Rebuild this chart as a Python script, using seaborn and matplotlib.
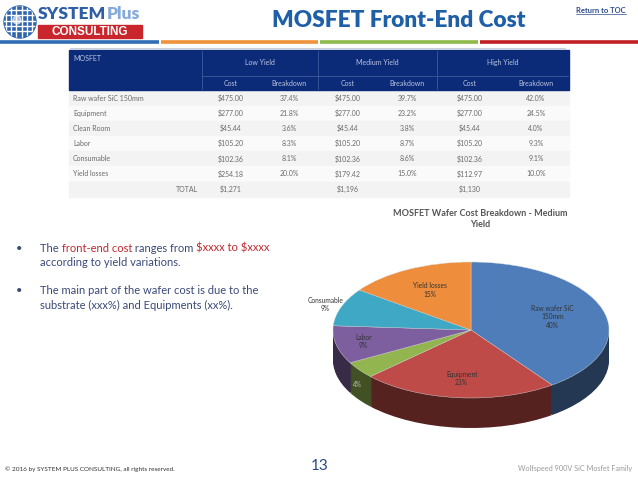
import numpy as np
import matplotlib
matplotlib.use("Agg")
import matplotlib.pyplot as plt
import matplotlib.patches as mpatches
import seaborn as sns

# ---------------- data ----------------
row_names = ["Raw wafer SiC 150mm", "Equipment", "Clean Room", "Labor", "Consumable", "Yield losses"]
low_cost = ["$475.00", "$277.00", "$45.44", "$105.20", "$102.36", "$254.18"]
low_pct = ["37.4%", "21.8%", "3.6%", "8.3%", "8.1%", "20.0%"]
med_cost = ["$475.00", "$277.00", "$45.44", "$105.20", "$102.36", "$179.42"]
med_pct = ["39.7%", "23.2%", "3.8%", "8.7%", "8.6%", "15.0%"]
high_cost = ["$475.00", "$277.00", "$45.44", "$105.20", "$102.36", "$112.97"]
high_pct = ["42.0%", "24.5%", "4.0%", "9.3%", "9.1%", "10.0%"]
totals = ["$1,271", "$1,196", "$1,130"]
group_names = ["Low Yield", "Medium Yield", "High Yield"]
sub_names = ["Cost", "Breakdown"]

pie_labels = ["Raw wafer SiC\n150mm\n40%", "Equipment\n23%", "4%", "Labor\n9%",
              "Consumable\n9%", "Yield losses\n15%"]
pie_values = [40, 23, 4, 9, 9, 15]
pie_colors = ["#4F7DBA", "#BE4B48", "#92B54F", "#7D5FA0", "#3FA8C4", "#EE8D3C"]

# ---------------- figure ----------------
sns.set_theme(style="white")
plt.rcParams['font.family'] = ['Lato', 'DejaVu Sans']

W, H = 638, 478
fig = plt.figure(figsize=(W / 100, H / 100), dpi=100)
fig.patch.set_facecolor("white")
renderer = fig.canvas.get_renderer()

bg = fig.add_axes([0, 0, 1, 1])
bg.set_xlim(0, W)
bg.set_ylim(H, 0)
bg.axis("off")


def T(x, y, s, **kw):
    return bg.text(x, y, s, parse_math=False, **kw)


def runs(x, y, parts, **kw):
    for s, c in parts:
        t = T(x, y, s, color=c, va="center", ha="left", **kw)
        bb = t.get_window_extent(renderer=renderer)
        x += bb.width
    return x


# ---- logo ----
globe = mpatches.Circle((20, 22), 16, color="#2f63ad", zorder=2)
bg.add_patch(globe)
for k in np.arange(6, 36, 5.2):
    ln1 = bg.plot([k, k], [4, 40], color="white", lw=1.0, zorder=3)[0]
    ln2 = bg.plot([2, 38], [k - 1, k - 1], color="white", lw=1.0, zorder=3)[0]
    ln1.set_clip_path(globe)
    ln2.set_clip_path(globe)
bg.add_patch(mpatches.Circle((17, 20), 4, color="white", alpha=0.6, zorder=4))
runs(38, 14, [("SYSTEM", "#2f5ea8"), ("Plus", "#86abdb")], fontsize=12.5, fontweight="heavy")
bg.add_patch(mpatches.Rectangle((38, 25), 104, 13, color="#c8262c", zorder=2))
T(90, 31.5, "CONSULTING", fontsize=8.5, fontweight="bold", color="white",
  family=["Liberation Sans"], va="center", ha="center", zorder=3)

# ---- title ----
T(399, 20, "MOSFET Front-End Cost", fontsize=16.3, fontweight="heavy", color="#1f5fa8",
  ha="center", va="center")
T(601, 10, "Return to TOC", fontsize=5.5, fontweight="bold", color="#2a4a8a",
  ha="center", va="center")
bg.plot([576, 626], [14, 14], color="#2a4a8a", lw=0.5)

# ---- stripes ----
for x0, x1, c in [(0, 159, "#2f6db5"), (161, 318, "#f0923a"), (320, 478, "#8db94a"), (480, 638, "#c21f24")]:
    bg.plot([x0, x1], [42, 42], color=c, lw=2.6, solid_capstyle="butt")
bg.plot([70, 565], [48, 48], color="#c9cfd8", lw=0.8)

# ---- table ----
navy = "#0b2a78"
tx0, tx1 = 69, 569
col_edges = [69, 202, 260, 318, 378, 437, 503, 569]
bg.add_patch(mpatches.Rectangle((tx0, 50), tx1 - tx0, 40, color=navy, zorder=2))
for xe in [202, 318, 437]:
    bg.plot([xe, xe], [51, 89], color="#3e5a9c", lw=0.6, zorder=3)
bg.plot([202, 568], [76, 76], color="#3e5a9c", lw=0.6, zorder=3)
hdr_col = "#b9c4e0"
T(73, 58, "MOSFET", fontsize=5, color=hdr_col, va="center", ha="left", zorder=4)
for g, name in enumerate(group_names):
    xa, xb = col_edges[1 + 2 * g], col_edges[3 + 2 * g]
    T((xa + xb) / 2, 62, name, fontsize=5, color=hdr_col, va="center", ha="center", zorder=4)
    for s, sn in enumerate(sub_names):
        xs0, xs1 = col_edges[1 + 2 * g + s], col_edges[2 + 2 * g + s]
        T((xs0 + xs1) / 2, 83, sn, fontsize=5, color=hdr_col, va="center", ha="center", zorder=4)

row_h = 15.2
cols_data = [low_cost, low_pct, med_cost, med_pct, high_cost, high_pct]
txt_col = "#6a6a6a"
for i, rn in enumerate(row_names):
    yc = 98 + i * row_h
    bg.add_patch(mpatches.Rectangle((tx0, yc - row_h / 2), tx1 - tx0, row_h,
                                    color="#f3f3f3" if i % 2 == 0 else "#fafafa", zorder=1))
    T(73, yc, rn, fontsize=5, color=txt_col, va="center", ha="left")
    for j, col in enumerate(cols_data):
        xc = (col_edges[1 + j] + col_edges[2 + j]) / 2
        T(xc, yc, col[i], fontsize=5, color=txt_col, va="center", ha="center")
yt = 98 + len(row_names) * row_h
bg.add_patch(mpatches.Rectangle((tx0, yt - row_h / 2), tx1 - tx0, row_h, color="#f3f3f3", zorder=1))
T(198, yt, "TOTAL", fontsize=5, color=txt_col, va="center", ha="right")
for g, tv in enumerate(totals):
    xc = (col_edges[1 + 2 * g] + col_edges[2 + 2 * g]) / 2
    T(xc, yt, tv, fontsize=5, color=txt_col, va="center", ha="center")

# ---- bullets ----
txtc = "#3a4a78"
redc = "#c0282d"
fs = 8.0
T(16, 248, "•", fontsize=fs, color=txtc, va="center")
runs(40, 248, [("The ", txtc), ("front-end cost", redc), (" ranges from ", txtc), ("$xxxx to $xxxx", redc)], fontsize=fs)
runs(40, 262, [("according to yield variations.", txtc)], fontsize=fs)
T(16, 291, "•", fontsize=fs, color=txtc, va="center")
runs(40, 291, [("The main part of the wafer cost is due to the", txtc)], fontsize=fs)
runs(40, 305, [("substrate (xxx%) and Equipments (xx%).", txtc)], fontsize=fs)

# ---- footer ----
T(5, 469, "© 2016 by SYSTEM PLUS CONSULTING, all rights reserved.", fontsize=4.6,
  color="#333333", va="center", ha="left")
T(320, 466, "13", fontsize=11, color="#2a4a80", va="center", ha="center")
T(632, 469, "Wolfspeed 900V SiC Mosfet Family", fontsize=5.2, color="#9a9a9a",
  va="center", ha="right")

# ---- pie chart (pseudo 3D) ----
T(480, 219, "MOSFET Wafer Cost Breakdown - Medium\nYield", fontsize=6.5, fontweight="bold",
  color="#555555", ha="center", va="center", linespacing=1.3)

ax_l, ax_r, ax_t, ax_b = 320, 620, 250, 440
pax = fig.add_axes([ax_l / W, 1 - ax_b / H, (ax_r - ax_l) / W, (ax_b - ax_t) / H])
rx, ry, cx, cy = 138.0, 68.0, 471.0, 330.0
depth = 30.0 / ry
dark = [tuple(np.array(matplotlib.colors.to_rgb(c)) * 0.45) for c in pie_colors]
for d in np.linspace(depth, 0.02, 18):
    pax.pie(pie_values, colors=dark, startangle=90, counterclock=False, center=(0, -d),
            radius=1, wedgeprops=dict(linewidth=0))
wedges, _ = pax.pie(pie_values, colors=pie_colors, startangle=90, counterclock=False,
                    center=(0, 0), radius=1, wedgeprops=dict(linewidth=0.3, edgecolor="#dddddd"))
pax.set_aspect("auto")
pax.set_xlim(-(cx - ax_l) / rx, (ax_r - cx) / rx)
pax.set_ylim(-(ax_b - cy) / ry, (cy - ax_t) / ry)
pax.axis("off")

label_r = [0.62, 0.72, 1.02, 0.8, 1.12, 0.66]
for w, lab, lr in zip(wedges, pie_labels, label_r):
    ang = np.deg2rad((w.theta1 + w.theta2) / 2)
    x, y = lr * np.cos(ang), lr * np.sin(ang)
    col = "#333333"
    if lab.startswith("4%"):
        y -= 0.2
        col = "#bbbbbb"
    pax.text(x, y, lab, fontsize=4.8, color=col, ha="center", va="center",
             linespacing=1.2, parse_math=False)

fig.savefig("out.png", dpi=100, facecolor="white")
